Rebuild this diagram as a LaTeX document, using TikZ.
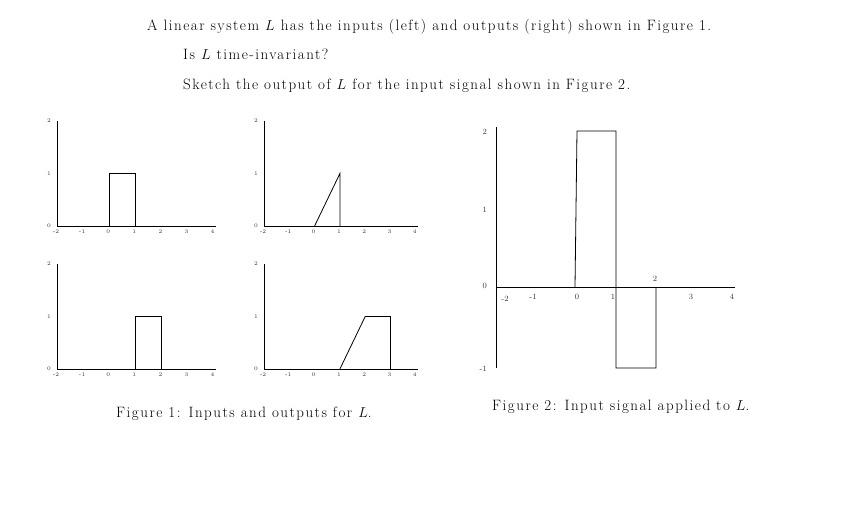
\documentclass[tikz,border=0pt]{standalone}
\usepackage{fontspec}
\setmainfont{Latin Modern Roman}
\newfontfamily\spaced{Latin Modern Roman}[LetterSpace=10]
\begin{document}
\begin{tikzpicture}[x=1pt,y=-1pt,
  ax/.style={line width=0.9pt},
  sig/.style={line width=0.8pt},
  tk/.style={font=\fontsize{5.5}{6}\selectfont, text=black!80, inner sep=0pt},
  tkb/.style={font=\fontsize{8}{9}\selectfont, text=black!80, inner sep=0pt},
  txt/.style={font=\spaced\fontsize{15}{17}\selectfont, inner sep=0pt, anchor=base west}]
\useasboundingbox (0,0) rectangle (865,532);
% text
\node[txt] (t1) at (147,31) {A linear system $L$ has the inputs (left) and outputs (right) shown in Figure 1.};
\node[txt] (t2) at (183,60) {Is $L$ time-invariant?};
\node[txt] (t3) at (183,90) {Sketch the output of $L$ for the input signal shown in Figure 2.};
\node[txt] (c1) at (116,417) {Figure 1: Inputs and outputs for $L$.};
\node[txt] (c2) at (492,410) {Figure 2: Input signal applied to $L$.};
% small plots
\foreach \xo/\yo/\ux in {57/226/26.1, 264/226/25.3, 57/369/26.1, 264/369/25.3}{
  \draw[ax] (\xo,\yo-105) -- (\xo,\yo) -- (\xo+6*\ux+2,\yo);
  \foreach \i/\l in {0/0,1/1,2/2}
    \node[tk,anchor=east] at (\xo-6,\yo-\i*52.5) {\l};
  \foreach \i/\l in {0/-2,1/-1,2/0,3/1,4/2,5/3,6/4}
    \node[tk,anchor=north] at (\xo+\i*\ux-1,\yo+4) {\l};
}
\draw[sig] (57+2*26.1,226) -- (57+2*26.1,226-52.5) -- (57+3*26.1,226-52.5) -- (57+3*26.1,226);
\draw[sig] (264+2*25.3,226) -- (264+3*25.3,226-52.5) -- (264+3*25.3,226);
\draw[sig] (57+3*26.1,369) -- (57+3*26.1,369-52.5) -- (57+4*26.1,369-52.5) -- (57+4*26.1,369);
\draw[sig] (264+3*25.3,369) -- (264+4*25.3,369-52.5) -- (264+5*25.3,369-52.5) -- (264+5*25.3,369);
% figure 2
\draw[ax] (496,127) -- (496,368);
\draw[ax] (496,287) -- (735,287);
\node[tkb,anchor=east] at (487,132) {2};
\node[tkb,anchor=east] at (487,210) {1};
\node[tkb,anchor=east] at (487,286) {0};
\node[tkb,anchor=east] at (487,369) {-1};
\node[tkb] at (505,299) {-2};
\node[tkb] at (533,297) {-1};
\node[tkb] at (577,297) {0};
\node[tkb] at (613,297) {1};
\node[tkb] at (655,279) {2};
\node[tkb] at (691,297) {3};
\node[tkb] at (732,297) {4};
\draw[sig] (575,287) -- (577,131) -- (616,131) -- (616,368) -- (656,368) -- (656,287);
\end{tikzpicture}
\end{document}
